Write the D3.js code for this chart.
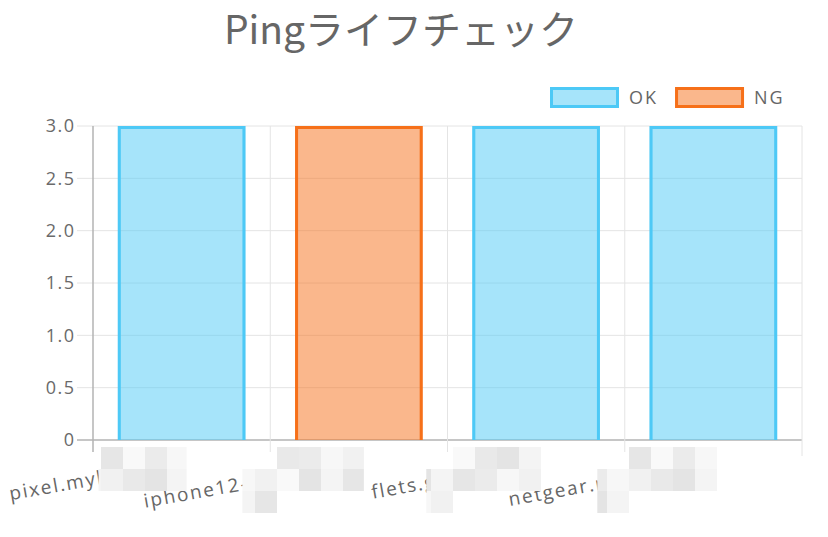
<!DOCTYPE html>
<html><head><meta charset="utf-8">
<script src="https://cdn.jsdelivr.net/npm/d3@7"></script>
<style>body{margin:0;background:#fff}svg{display:block}</style>
</head><body>
<svg id="c" width="828" height="537"></svg>
<script>
const title = "Pingライフチェック";
const categories = ["pixel.myhome.jp", "iphone12-mini.home", "flets.gateway.jp", "netgear.routerlogin"];
const visibleChars = [8, 8, 6, 8];
const values = [3, 3, 3, 3];
const status = ["OK", "NG", "OK", "OK"];
const legendItems = ["OK", "NG"];
const yTicks = [0, 0.5, 1, 1.5, 2, 2.5, 3];
const colors = {OK: {stroke: "#4dc9f6", fill: "rgba(77,201,246,0.5)"}, NG: {stroke: "#f67019", fill: "rgba(246,112,25,0.5)"}};
const maskGrays = ["#f4f4f4", "#ebebeb", "#e6e6e6", "#f7f7f7", "#e9e9e9", "#f1f1f1", "#e4e4e4", "#f9f9f9"];

const svg = d3.select("#c");
const L = 93, R = 802, T = 126, B = 440;
const x = d3.scaleBand().domain(categories).range([L, R]);
const y = d3.scaleLinear().domain([0, 3]).range([B, T]);
const font = "'Open Sans', 'Noto Sans', sans-serif";

// title
svg.append("text").attr("x", 401).attr("y", 44).attr("text-anchor", "middle")
  .attr("font-family", "'Noto Sans CJK JP', 'Noto Sans', sans-serif").attr("font-size", 39)
  .attr("fill", "#666").text(title);

// horizontal grid + y ticks
const g = svg.append("g");
yTicks.forEach(t => {
  g.append("line").attr("x1", 77).attr("x2", R).attr("y1", y(t)).attr("y2", y(t))
    .attr("stroke", t === 0 ? "#b3b3b3" : "#e4e4e4").attr("stroke-width", t === 0 ? 1.5 : 1);
  g.append("text").attr("x", 75.5).attr("y", y(t)).attr("dy", "0.36em").attr("text-anchor", "end")
    .attr("font-family", font).attr("font-size", 18).attr("letter-spacing", 1.5).attr("fill", "#6a6a6a")
    .text(t === 0 ? "0" : t.toFixed(1));
});
// vertical grid
const bounds = categories.map(c => x(c)).concat([R]);
bounds.forEach((bx, i) => {
  g.append("line").attr("x1", bx).attr("x2", bx).attr("y1", T).attr("y2", i === bounds.length - 1 ? 456 : 452)
    .attr("stroke", i === 0 ? "#b3b3b3" : "#e4e4e4").attr("stroke-width", i === 0 ? 1.5 : 1);
});

// bars
const bw = x.bandwidth() * 0.72, sw = 3;
categories.forEach((c, i) => {
  const c0 = colors[status[i]];
  const x0 = x(c) + (x.bandwidth() - bw) / 2, x1 = x0 + bw, yt = y(values[i]);
  svg.append("rect").attr("x", x0).attr("y", yt).attr("width", bw).attr("height", B - yt).attr("fill", c0.fill);
  svg.append("path").attr("d", `M${x0 + sw/2},${B} V${yt + sw/2} H${x1 - sw/2} V${B}`)
    .attr("fill", "none").attr("stroke", c0.stroke).attr("stroke-width", sw);
});

// x labels (host names partly hidden by a pixel mask, as in the source image)
const ang = -10, rad = ang * Math.PI / 180;
const maskLayer = svg.append("g");
categories.forEach((c, i) => {
  const cx = x(c) + x.bandwidth() / 2, cy = 470;
  const t = svg.insert("text", "g.mask").attr("transform", `translate(${cx},${cy}) rotate(${ang})`)
    .attr("text-anchor", "end").attr("font-family", font).attr("font-size", 19)
    .attr("letter-spacing", 1.8).attr("fill", "#666").text(c);
  const node = t.node();
  const n = c.length, v = visibleChars[i];
  const s = node.getStartPositionOfChar(v), e = node.getEndPositionOfChar(n - 1);
  const toScreen = p => [cx + p.x * Math.cos(rad) - p.y * Math.sin(rad), cy + p.x * Math.sin(rad) + p.y * Math.cos(rad)];
  const p0 = toScreen({x: s.x + 1, y: s.y}), p1 = toScreen({x: e.x + 2, y: e.y});
  const gs = 22, ox = 13, oy = 7;
  const cells = new Map();
  const steps = 30;
  for (let k = 0; k <= steps; k++) {
    const f = k / steps;
    const px = p0[0] + (p1[0] - p0[0]) * f, py = p0[1] + (p1[1] - p0[1]) * f;
    [py - 15, py - 5, py + 4].forEach(yy => {
      const gx = Math.floor((px - ox) / gs), gy = Math.floor((yy - oy) / gs);
      cells.set(gx + "," + gy, [gx, gy]);
    });
  }
  const xmin = p0[0], xmax = cx + 5;
  let k = i * 3;
  cells.forEach(([gx, gy]) => {
    const rx = Math.max(gx * gs + ox, xmin), rr = Math.min(gx * gs + ox + gs, xmax);
    if (rr - rx <= 0) return;
    maskLayer.append("rect").attr("x", rx).attr("y", gy * gs + oy).attr("width", rr - rx).attr("height", gs)
      .attr("fill", maskGrays[k % maskGrays.length]);
    k += 5;
  });
});
maskLayer.raise();

// legend
let lx = 550;
legendItems.forEach(name => {
  const c0 = colors[name];
  svg.append("rect").attr("x", lx + 1.5).attr("y", 88.5).attr("width", 66).attr("height", 18)
    .attr("fill", c0.fill).attr("stroke", c0.stroke).attr("stroke-width", 3);
  const t = svg.append("text").attr("x", lx + 79).attr("y", 98).attr("dy", "0.36em")
    .attr("font-family", font).attr("font-size", 18).attr("letter-spacing", 2).attr("fill", "#666").text(name);
  lx += 79 + t.node().getComputedTextLength() + 17;
});
</script>
</body></html>
